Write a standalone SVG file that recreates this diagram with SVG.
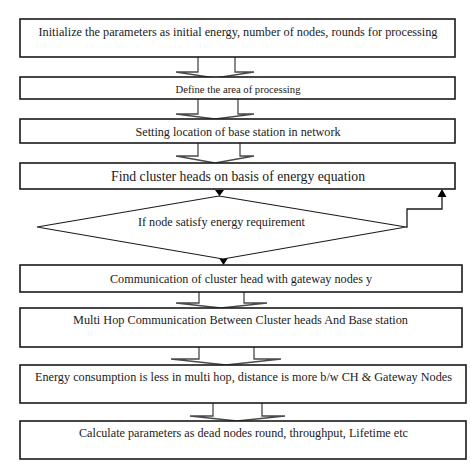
<svg xmlns="http://www.w3.org/2000/svg" width="474" height="469" viewBox="0 0 474 469">
<style>
.box{fill:#fff;stroke:#1a1a1a;stroke-width:1.6}
.dia{fill:#fff;stroke:#1a1a1a;stroke-width:1.1}
.blk{fill:#fff;stroke:#4a4a4a;stroke-width:1.3;stroke-linejoin:miter}
.ln{fill:none;stroke:#1a1a1a;stroke-width:1.3}
.tri{fill:#000}
text{font-family:"Liberation Serif","Times New Roman",serif;fill:#1a1a1a;text-anchor:middle}
</style>
<rect width="474" height="469" fill="#fff"/>
<g id="connectors">
<path class="blk" d="M198,57 V72 H176 L215,78 L254,72 H235 V57"/>
<path class="blk" d="M198,99 V114 H176 L215,119 L254,114 H238 V99"/>
<path class="blk" d="M198,143 V156 H176 L215,163 L254,156 H240 V143"/>
<path class="blk" d="M199,292 V303 H176 L221,308 L267,303 H244 V292"/>
<path class="blk" d="M199,347 V359 H171 L226,365 L281,359 H254 V347"/>
<path class="blk" d="M213,403 V416 H190 L237,421 L285,416 H262 V403"/>
<path class="ln" d="M406,227 H407 V209 H442 V195"/>
<polygon class="tri" points="437.5,197 446.5,197 442,189"/>
<polygon class="tri" points="215,190 224,190 219.5,196"/>
<polygon class="tri" points="219,258 228,258 223.5,265"/>
</g>
<g id="n1"><rect class="box" x="20" y="19" width="435" height="38"/><text x="238" y="36" font-size="12" textLength="399" lengthAdjust="spacingAndGlyphs">Initialize the parameters as initial energy, number of nodes, rounds for processing</text></g>
<g id="n2"><rect class="box" x="20" y="77" width="435" height="22"/><text x="238" y="93" font-size="11" textLength="125" lengthAdjust="spacingAndGlyphs">Define the area of processing</text></g>
<g id="n3"><rect class="box" x="20" y="119" width="435" height="24"/><text x="238" y="136" font-size="12" textLength="205" lengthAdjust="spacingAndGlyphs">Setting location of base station in network</text></g>
<g id="n4"><rect class="box" x="20" y="163" width="435" height="26"/><text x="238" y="181" font-size="14" textLength="254" lengthAdjust="spacingAndGlyphs">Find cluster heads on basis of energy equation</text></g>
<g id="n5"><polygon class="dia" points="219,196 406,227 223,259 37,227"/><text x="221.5" y="226" font-size="12" textLength="167" lengthAdjust="spacingAndGlyphs">If node satisfy energy requirement</text></g>
<g id="n6"><rect class="box" x="20" y="265" width="442" height="27"/><text x="241" y="283" font-size="12.5" textLength="262" lengthAdjust="spacingAndGlyphs">Communication of cluster head with gateway nodes y</text></g>
<g id="n7"><rect class="box" x="20" y="308" width="442" height="39"/><text x="240.5" y="324" font-size="12.5" textLength="335" lengthAdjust="spacingAndGlyphs">Multi Hop Communication Between Cluster heads And Base station</text></g>
<g id="n8"><rect class="box" x="20" y="365" width="446" height="38"/><text x="243.5" y="381" font-size="12.5" textLength="417" lengthAdjust="spacingAndGlyphs">Energy consumption is less in multi hop, distance is more b/w CH &amp; Gateway Nodes</text></g>
<g id="n9"><rect class="box" x="20" y="421" width="446" height="38"/><text x="243.5" y="437" font-size="12" textLength="329" lengthAdjust="spacingAndGlyphs">Calculate parameters as dead nodes round, throughput, Lifetime etc</text></g>
</svg>
